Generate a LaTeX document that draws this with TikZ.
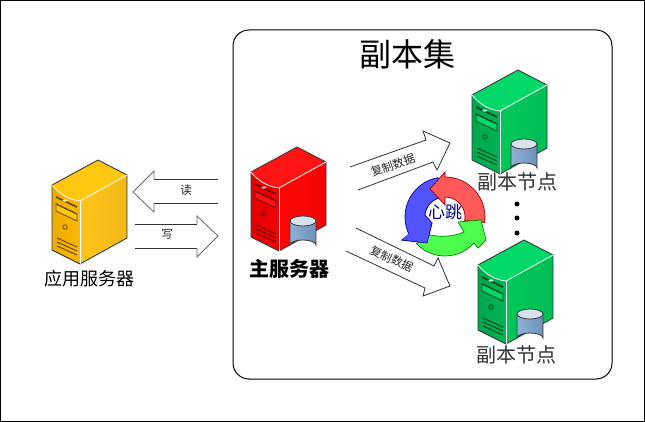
\documentclass[tikz,border=0pt]{standalone}
\usepackage{fontspec}
\setmainfont{Noto Sans CJK SC}
\newcommand{\fsz}[1]{\fontsize{#1}{#1}\selectfont}
\definecolor{edgegrey}{HTML}{3A3A3A}
\definecolor{ylwA}{HTML}{FFB800}\definecolor{ylwB}{HTML}{FFC41A}\definecolor{ylwC}{HTML}{FFC70F}\definecolor{ylwD}{HTML}{6B5000}
\definecolor{redA}{HTML}{F40000}\definecolor{redB}{HTML}{FF0505}\definecolor{redC}{HTML}{FF1414}\definecolor{redD}{HTML}{6A0000}
\definecolor{grnA}{HTML}{00B454}\definecolor{grnB}{HTML}{00C85A}\definecolor{grnC}{HTML}{00D868}\definecolor{grnD}{HTML}{004A20}
\definecolor{drumL}{HTML}{8FB0D2}\definecolor{drumR}{HTML}{6E92BA}\definecolor{drumT}{HTML}{D8E2EC}
\tikzset{
  pageframe/.style={draw=black,line width=1.6pt},
  setbox/.style={draw=black,line width=1pt,rounded corners=16pt},
  blockdark/.style={draw=black!80,line width=0.8pt},
  blockhead/.style={draw=black!60,line width=0.8pt},
  captext/.style={text=black,inner sep=0pt},
  flowlabel/.style={font=\fsz{11.5},text=black!85,inner sep=0pt},
  serveredge/.style={draw=edgegrey,line width=0.9pt,line join=round},
  shine/.style={draw=white,line width=0.8pt},
  ringred/.style={fill=red!65!white,draw=red!60!black,line width=0.7pt},
  ringblue/.style={fill=blue!68!white,draw=blue!60!black,line width=0.7pt},
  ringgreen/.style={fill=green!70!white,draw=green!50!black,line width=0.7pt},
  dotmark/.style={circle,fill=black,inner sep=0pt,minimum size=5pt},
}
% #1 x, #2 y, #3 front, #4 right, #5 top, #6 dark
\newcommand{\serverbody}[6]{%
\begin{scope}[shift={(#1,#2)}]
  \fill[#5] (0,0) -- (46,-25) -- (75,-10) -- (28,16) .. controls (18,15) and (8,10) .. cycle;
  \path[shade,left color=#3!93!black,right color=#3] (0,0) .. controls (8,10) and (18,15) .. (28,16) -- (28,79) -- (0,65) -- cycle;
  \path[shade,left color=#4,right color=#4!95!black] (28,16) -- (75,-10) -- (75,53) -- (28,79) -- cycle;
  \draw[serveredge] (0,0) -- (46,-25) -- (75,-10) -- (75,53) -- (28,79) -- (0,65) -- cycle;
  \draw[shine] (0,0) .. controls (8,10) and (18,15) .. (28,16) -- (75,-10);
  \draw[shine] (28,16) -- (28,79);
  \draw[#6,line width=1.8pt] (4,12) -- (25,22);
  \fill[white!70!#3] (13,15.5) ellipse (2.6 and 1.2);
  \draw[#6,line width=0.8pt,fill=#5] (4,19) -- (25,29) -- (25,36) -- (4,26) -- cycle;
  \draw[#6,line width=1.2pt] (4,19) -- (25,29);
  \draw[#6,line width=0.8pt] (13,42) circle (2.2);
  \draw[#6,line width=1pt] (5,53) -- (25,62) (5,57) -- (25,66) (5,61) -- (25,70);
\end{scope}}
\newcommand{\drum}[2]{%
\begin{scope}[shift={(#1,#2)}]
  \path[draw=edgegrey,line width=0.8pt,left color=drumL,middle color=white,right color=drumR]
    (39,49) -- (39,73) arc[start angle=180,end angle=360,x radius=13,y radius=5] -- (65,49) -- cycle;
  \draw[edgegrey,line width=0.8pt,fill=drumT] (52,49) ellipse (13 and 5);
\end{scope}}
\begin{document}
\begin{tikzpicture}[x=1pt,y=-1pt]
\useasboundingbox (0,0) rectangle (645,422);
\fill[white] (0,0) rectangle (645,422);
\draw[pageframe] (0.6,0.6) rectangle (644.4,421.4);
\draw[setbox] (233,30) rectangle (612,379);

% servers
\serverbody{52}{185}{ylwA}{ylwB}{ylwC}{ylwD}
\serverbody{251}{172}{redA}{redB}{redC}{redD}
\drum{251}{172}
\serverbody{472}{95}{grnA}{grnB}{grnC}{grnD}
\drum{472}{95}
\serverbody{478}{265}{grnA}{grnB}{grnC}{grnD}
\drum{478}{265}

% read / write block arrows
\draw[blockdark] (218,179) -- (154,179);
\draw[blockdark] (218,203) -- (154,203);
\draw[blockhead] (154,179) -- (154,171) -- (133,192) -- (154,212) -- (154,203);
\draw[blockdark] (135,224) -- (197,224);
\draw[blockdark] (135,248) -- (197,248);
\draw[blockhead] (197,224) -- (197,216) -- (218,236) -- (197,257) -- (197,248);

% replication block arrows
\draw[blockdark] (350,167) -- (426,140) -- (423,131) -- (450,143) -- (437,170) -- (433,162) -- (358,190);
\draw[blockdark] (356,228) -- (434,266) -- (438,258) -- (450,286) -- (423,296) -- (425,288) -- (346,251);

% heartbeat ring
\begin{scope}[shift={(445,217)},y=1pt]
  \draw[ringblue] (100:40) arc[start angle=100,end angle=206,radius=40] -- (-43,-23) -- (-18,-26) -- (-13,-6) -- (-20,2) arc[start angle=174,end angle=100,radius=20] -- cycle;
  \draw[ringred] (-8:40) arc[start angle=-8,end angle=90,radius=40] -- (0,45) -- (-15,28) -- (0,12) -- (0,20) arc[start angle=90,end angle=-10,radius=20] -- cycle;
  \draw[ringgreen] (223:39) arc[start angle=223,end angle=318,radius=39] -- (33,-31) -- (41,-23) -- (36,-3) -- (13,-5) -- (19,-15) .. controls (8,-20) and (-5,-20) .. (-15,-18) -- cycle;
  \draw[ringblue] (-37,-18) -- (-43,-23) -- (-18,-26) -- (-13,-6);
  \fill[blue!68!white] (-37,-17) -- (-42.5,-22.5) -- (-18.3,-25.5) -- (-14,-7) -- cycle;
\end{scope}

% texts
\node[font=\fsz{32},inner sep=0pt] (titlelabel) at (407,54) {副本集};
\node[captext,font=\fsz{18}] (applabel) at (89,279) {应用服务器};
\node[captext,font=\fsz{20}\bfseries] (masterlabel) at (289,269) {主服务器};
\node[captext,font=\fsz{20},text=black!80] (replicaA) at (517,182) {副本节点};
\node[captext,font=\fsz{20},text=black!80] (replicaB) at (516,355) {副本节点};
\node[flowlabel] (readlabel) at (186,190) {读};
\node[flowlabel] (writelabel) at (167,234) {写};
\node[flowlabel,rotate=20] (copyA) at (393,165) {复制数据};
\node[flowlabel,rotate=-25] (copyB) at (392,259) {复制数据};
\node[font=\fsz{17},text=blue!50!black,inner sep=0pt] (beatlabel) at (445,212) {心跳};
\node[dotmark] (dotA) at (517,204) {};
\node[dotmark] (dotB) at (517,218) {};
\node[dotmark] (dotC) at (517,233) {};
\end{tikzpicture}
\end{document}
